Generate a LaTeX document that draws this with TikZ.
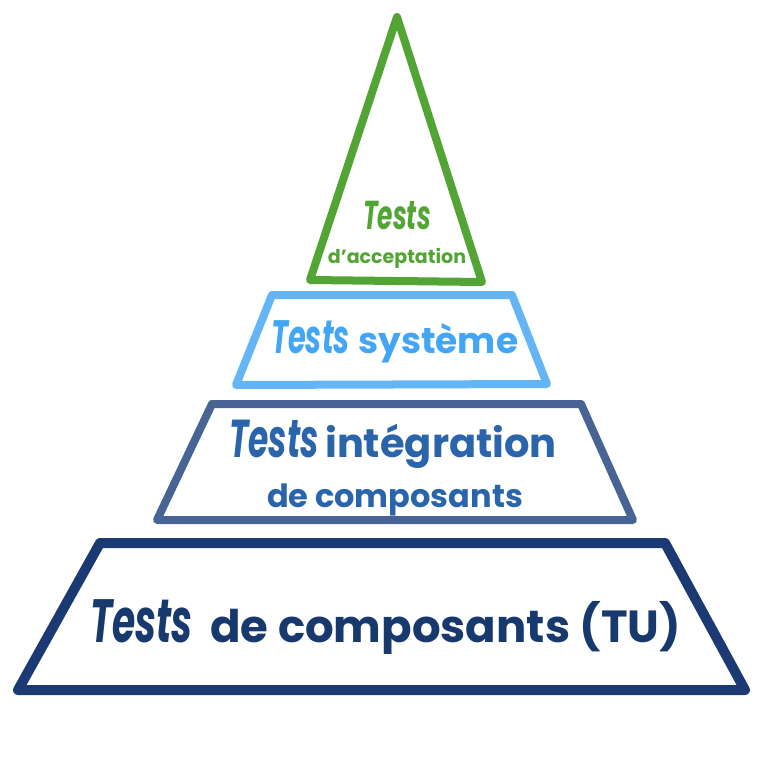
\documentclass[tikz,border=0pt]{standalone}
\usepackage{fontspec}
\usepackage{graphicx}
\setmainfont{Poppins}
\usetikzlibrary{positioning}

\definecolor{accgreen}{HTML}{52A435}
\definecolor{sysline}{HTML}{64B5F6}
\definecolor{systext}{HTML}{42A5F5}
\definecolor{intline}{HTML}{476494}
\definecolor{inttext}{HTML}{2A64AB}
\definecolor{tuline}{HTML}{1B3A73}
\definecolor{tutext}{HTML}{17396E}

\newcommand{\brushword}[1]{\scalebox{0.8}[1.3]{#1}}
\newcommand{\fs}[1]{\fontsize{#1}{#1}\selectfont}

\tikzset{
  tier/.style={line width=8pt, line join=round, fill=white},
  words/.style={font=\bfseries, inner sep=0pt, anchor=base west},
  tests/.style={font=\bfseries\itshape, inner sep=0pt, anchor=base east}
}

\begin{document}
\begin{tikzpicture}[x=1pt,y=-1pt]
\useasboundingbox (0,0) rectangle (768,768);

% sommet : acceptation
\draw[tier, draw=accgreen] (397,17) -- (482,282) -- (310,280) -- cycle;
\node[words, anchor=base, text=accgreen, font=\bfseries\fs{19}] (acc) at (397,263) {d’acceptation};
\node[tests, anchor=base, text=accgreen, font=\bfseries\itshape\fs{31}] (acctests) at (397,229) {\brushword{Tests}};

% systeme
\draw[tier, draw=sysline] (272,295) -- (512,295) -- (547,384) -- (236,385) -- cycle;
\node[words, text=systext, font=\bfseries\fs{36}] (sys) at (358,353) {système};
\node[tests, text=systext, font=\bfseries\itshape\fs{36}] (systests) at ([xshift=-8pt]sys.base west) {\brushword{Tests}};

% integration
\draw[tier, draw=intline] (212,404) -- (581,404) -- (633,520) -- (157,520) -- cycle;
\node[words, text=inttext, font=\bfseries\fs{40}] (int) at (325,457) {intégration};
\node[tests, text=inttext, font=\bfseries\itshape\fs{41}] (inttests) at ([xshift=-6pt]int.base west) {\brushword{Tests}};
\node[words, anchor=base, text=inttext, font=\bfseries\fs{32}] (intcomp) at (395,507) {de composants};

% base : tests unitaires
\draw[tier, line width=10pt, draw=tuline] (100,543) -- (665,543) -- (745,690) -- (18,690) -- cycle;
\node[words, text=tutext, font=\bfseries\fs{45}] (tu) at (210,642) {de composants (TU)};
\node[tests, text=tutext, font=\bfseries\itshape\fs{47}] (tutests) at ([xshift=-17pt]tu.base west) {\brushword{Tests}};
\end{tikzpicture}
\end{document}
